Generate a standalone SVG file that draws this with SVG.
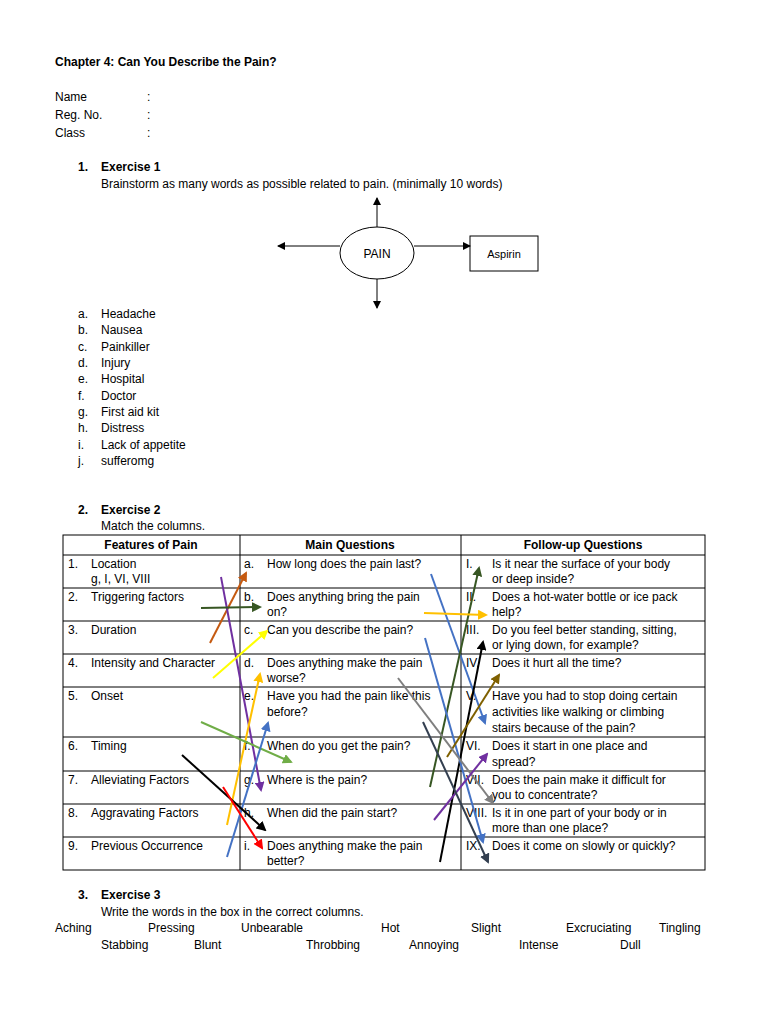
<svg xmlns="http://www.w3.org/2000/svg" width="768" height="1024" viewBox="0 0 768 1024">
<style>
text{font-family:"Liberation Sans",Arial,sans-serif;font-size:12px;fill:#000}
.b{font-weight:bold}
.c{text-anchor:middle}
.g{stroke:#000;stroke-width:1;fill:none}
.ln{stroke-width:2;fill:none}
</style>
<defs>
<marker id="ak" markerWidth="8" markerHeight="8" refX="7" refY="4" orient="auto" markerUnits="userSpaceOnUse"><path d="M0,0L8,4L0,8z" fill="#000"/></marker>
<marker id="m" viewBox="0 0 10 10" markerWidth="5" markerHeight="5" refX="8" refY="5" orient="auto"><path d="M0,0L10,5L0,10z" fill="context-stroke"/></marker>
</defs>
<rect width="768" height="1024" fill="#fff"/>
<g id="header">
<text x="55" y="66" class="b">Chapter 4: Can You Describe the Pain?</text>
<text x="55" y="101">Name</text><text x="147" y="101">:</text>
<text x="55" y="119">Reg. No.</text><text x="147" y="119">:</text>
<text x="55" y="137">Class</text><text x="147" y="137">:</text>
<text x="78" y="171" class="b">1.</text><text x="101" y="171" class="b">Exercise 1</text>
<text x="101" y="188">Brainstorm as many words as possible related to pain. (minimally 10 words)</text>
</g>
<g id="pain"><ellipse cx="377" cy="253" rx="37" ry="26" class="g"/><text x="377" y="258" class="c">PAIN</text></g>
<g id="aspirin"><rect x="470" y="236" width="68" height="35" class="g"/><text x="504" y="258" class="c" style="font-size:11px">Aspirin</text></g>
<g id="connectors" stroke="#000" stroke-width="1">
<line x1="377" y1="227" x2="377" y2="198" marker-end="url(#ak)"/>
<line x1="340" y1="246" x2="278" y2="246" marker-end="url(#ak)"/>
<line x1="414" y1="246" x2="470" y2="246" marker-end="url(#ak)"/>
<line x1="377" y1="279" x2="377" y2="308" marker-end="url(#ak)"/>
</g>
<g id="list">
<text x="78" y="318">a.</text><text x="101" y="318">Headache</text>
<text x="78" y="334">b.</text><text x="101" y="334">Nausea</text>
<text x="78" y="351">c.</text><text x="101" y="351">Painkiller</text>
<text x="78" y="367">d.</text><text x="101" y="367">Injury</text>
<text x="78" y="383">e.</text><text x="101" y="383">Hospital</text>
<text x="78" y="400">f.</text><text x="101" y="400">Doctor</text>
<text x="78" y="416">g.</text><text x="101" y="416">First aid kit</text>
<text x="78" y="432">h.</text><text x="101" y="432">Distress</text>
<text x="78" y="449">i.</text><text x="101" y="449">Lack of appetite</text>
<text x="78" y="465">j.</text><text x="101" y="465">sufferomg</text>
<text x="78" y="514" class="b">2.</text><text x="101" y="514" class="b">Exercise 2</text>
<text x="101" y="530">Match the columns.</text>
</g>
<g id="table">
<rect x="63" y="535" width="642" height="335" class="g"/>
<path class="g" d="M240,535V870M461,535V870M63,555H705M63,588H705M63,621H705M63,654H705M63,687H705M63,737H705M63,771H705M63,804H705M63,837H705"/>
<text x="151" y="549" class="b c">Features of Pain</text>
<text x="350" y="549" class="b c">Main Questions</text>
<text x="583" y="549" class="b c">Follow-up Questions</text>
<g>
<text x="68" y="568">1.</text><text x="91" y="568">Location</text><text x="91" y="583">g, I, VI, VIII</text>
<text x="68" y="601">2.</text><text x="91" y="601">Triggering factors</text>
<text x="68" y="634">3.</text><text x="91" y="634">Duration</text>
<text x="68" y="667">4.</text><text x="91" y="667">Intensity and Character</text>
<text x="68" y="700">5.</text><text x="91" y="700">Onset</text>
<text x="68" y="750">6.</text><text x="91" y="750">Timing</text>
<text x="68" y="784">7.</text><text x="91" y="784">Alleviating Factors</text>
<text x="68" y="817">8.</text><text x="91" y="817">Aggravating Factors</text>
<text x="68" y="850">9.</text><text x="91" y="850">Previous Occurrence</text>
</g>
<g>
<text x="244" y="568">a.</text><text x="267" y="568">How long does the pain last?</text>
<text x="244" y="601">b.</text><text x="267" y="601">Does anything bring the pain</text><text x="267" y="616">on?</text>
<text x="244" y="634">c.</text><text x="267" y="634">Can you describe the pain?</text>
<text x="244" y="667">d.</text><text x="267" y="667">Does anything make the pain</text><text x="267" y="682">worse?</text>
<text x="244" y="700">e.</text><text x="267" y="700">Have you had the pain like this</text><text x="267" y="716">before?</text>
<text x="244" y="750">f.</text><text x="267" y="750">When do you get the pain?</text>
<text x="244" y="784">g.</text><text x="267" y="784">Where is the pain?</text>
<text x="244" y="817">h.</text><text x="267" y="817">When did the pain start?</text>
<text x="244" y="850">i.</text><text x="267" y="850">Does anything make the pain</text><text x="267" y="865">better?</text>
</g>
<g>
<text x="466" y="568">I.</text><text x="492" y="568">Is it near the surface of your body</text><text x="492" y="583">or deep inside?</text>
<text x="466" y="601">II.</text><text x="492" y="601">Does a hot-water bottle or ice pack</text><text x="492" y="616">help?</text>
<text x="466" y="634">III.</text><text x="492" y="634">Do you feel better standing, sitting,</text><text x="492" y="649">or lying down, for example?</text>
<text x="466" y="667">IV.</text><text x="492" y="667">Does it hurt all the time?</text>
<text x="466" y="700">V.</text><text x="492" y="700">Have you had to stop doing certain</text><text x="492" y="716">activities like walking or climbing</text><text x="492" y="732">stairs because of the pain?</text>
<text x="466" y="750">VI.</text><text x="492" y="750">Does it start in one place and</text><text x="492" y="766">spread?</text>
<text x="466" y="784">VII.</text><text x="492" y="784">Does the pain make it difficult for</text><text x="492" y="799">you to concentrate?</text>
<text x="466" y="817">VIII.</text><text x="492" y="817">Is it in one part of your body or in</text><text x="492" y="832">more than one place?</text>
<text x="466" y="850">IX.</text><text x="492" y="850">Does it come on slowly or quickly?</text>
</g>
</g>
<g id="match-lines" class="ln" marker-end="url(#m)">
<line x1="210" y1="643" x2="246" y2="573" stroke="#c55a11" stroke-width="2"/>
<line x1="221" y1="577" x2="261" y2="790" stroke="#7030a0" stroke-width="2"/>
<line x1="201" y1="608" x2="260" y2="607" stroke="#375623" stroke-width="2"/>
<line x1="213" y1="678" x2="267" y2="631" stroke="#ffff00" stroke-width="2"/>
<line x1="227" y1="825" x2="260" y2="674" stroke="#ffc000" stroke-width="2"/>
<line x1="201" y1="722" x2="291" y2="762" stroke="#70ad47" stroke-width="2"/>
<line x1="227" y1="857" x2="268" y2="723" stroke="#4472c4" stroke-width="2"/>
<line x1="182" y1="755" x2="265" y2="830" stroke="#000" stroke-width="2"/>
<line x1="223" y1="787" x2="262" y2="848" stroke="#ff0000" stroke-width="2"/>
<line x1="431" y1="574" x2="485" y2="723" stroke="#4472c4" stroke-width="2"/>
<line x1="430" y1="787" x2="479" y2="568" stroke="#375623" stroke-width="2"/>
<line x1="424" y1="613" x2="486" y2="615" stroke="#ffc000" stroke-width="2"/>
<line x1="440" y1="862" x2="483" y2="642" stroke="#000" stroke-width="2"/>
<line x1="425" y1="638" x2="483" y2="842" stroke="#4472c4" stroke-width="2"/>
<line x1="447" y1="757" x2="499" y2="675" stroke="#7f6000" stroke-width="2"/>
<line x1="398" y1="678" x2="493" y2="803" stroke="#7f7f7f" stroke-width="2"/>
<line x1="434" y1="820" x2="487" y2="754" stroke="#7030a0" stroke-width="2"/>
<line x1="423" y1="722" x2="488" y2="862" stroke="#333f50" stroke-width="2"/>
</g>
<g id="ex3">
<text x="78" y="899" class="b">3.</text><text x="101" y="899" class="b">Exercise 3</text>
<text x="101" y="916">Write the words in the box in the correct columns.</text>
<text x="55" y="932">Aching</text><text x="148" y="932">Pressing</text><text x="241" y="932">Unbearable</text><text x="381" y="932">Hot</text><text x="471" y="932">Slight</text><text x="566" y="932">Excruciating</text><text x="659" y="932">Tingling</text>
<text x="101" y="949">Stabbing</text><text x="194" y="949">Blunt</text><text x="306" y="949">Throbbing</text><text x="409" y="949">Annoying</text><text x="519" y="949">Intense</text><text x="620" y="949">Dull</text>
</g>
</svg>
